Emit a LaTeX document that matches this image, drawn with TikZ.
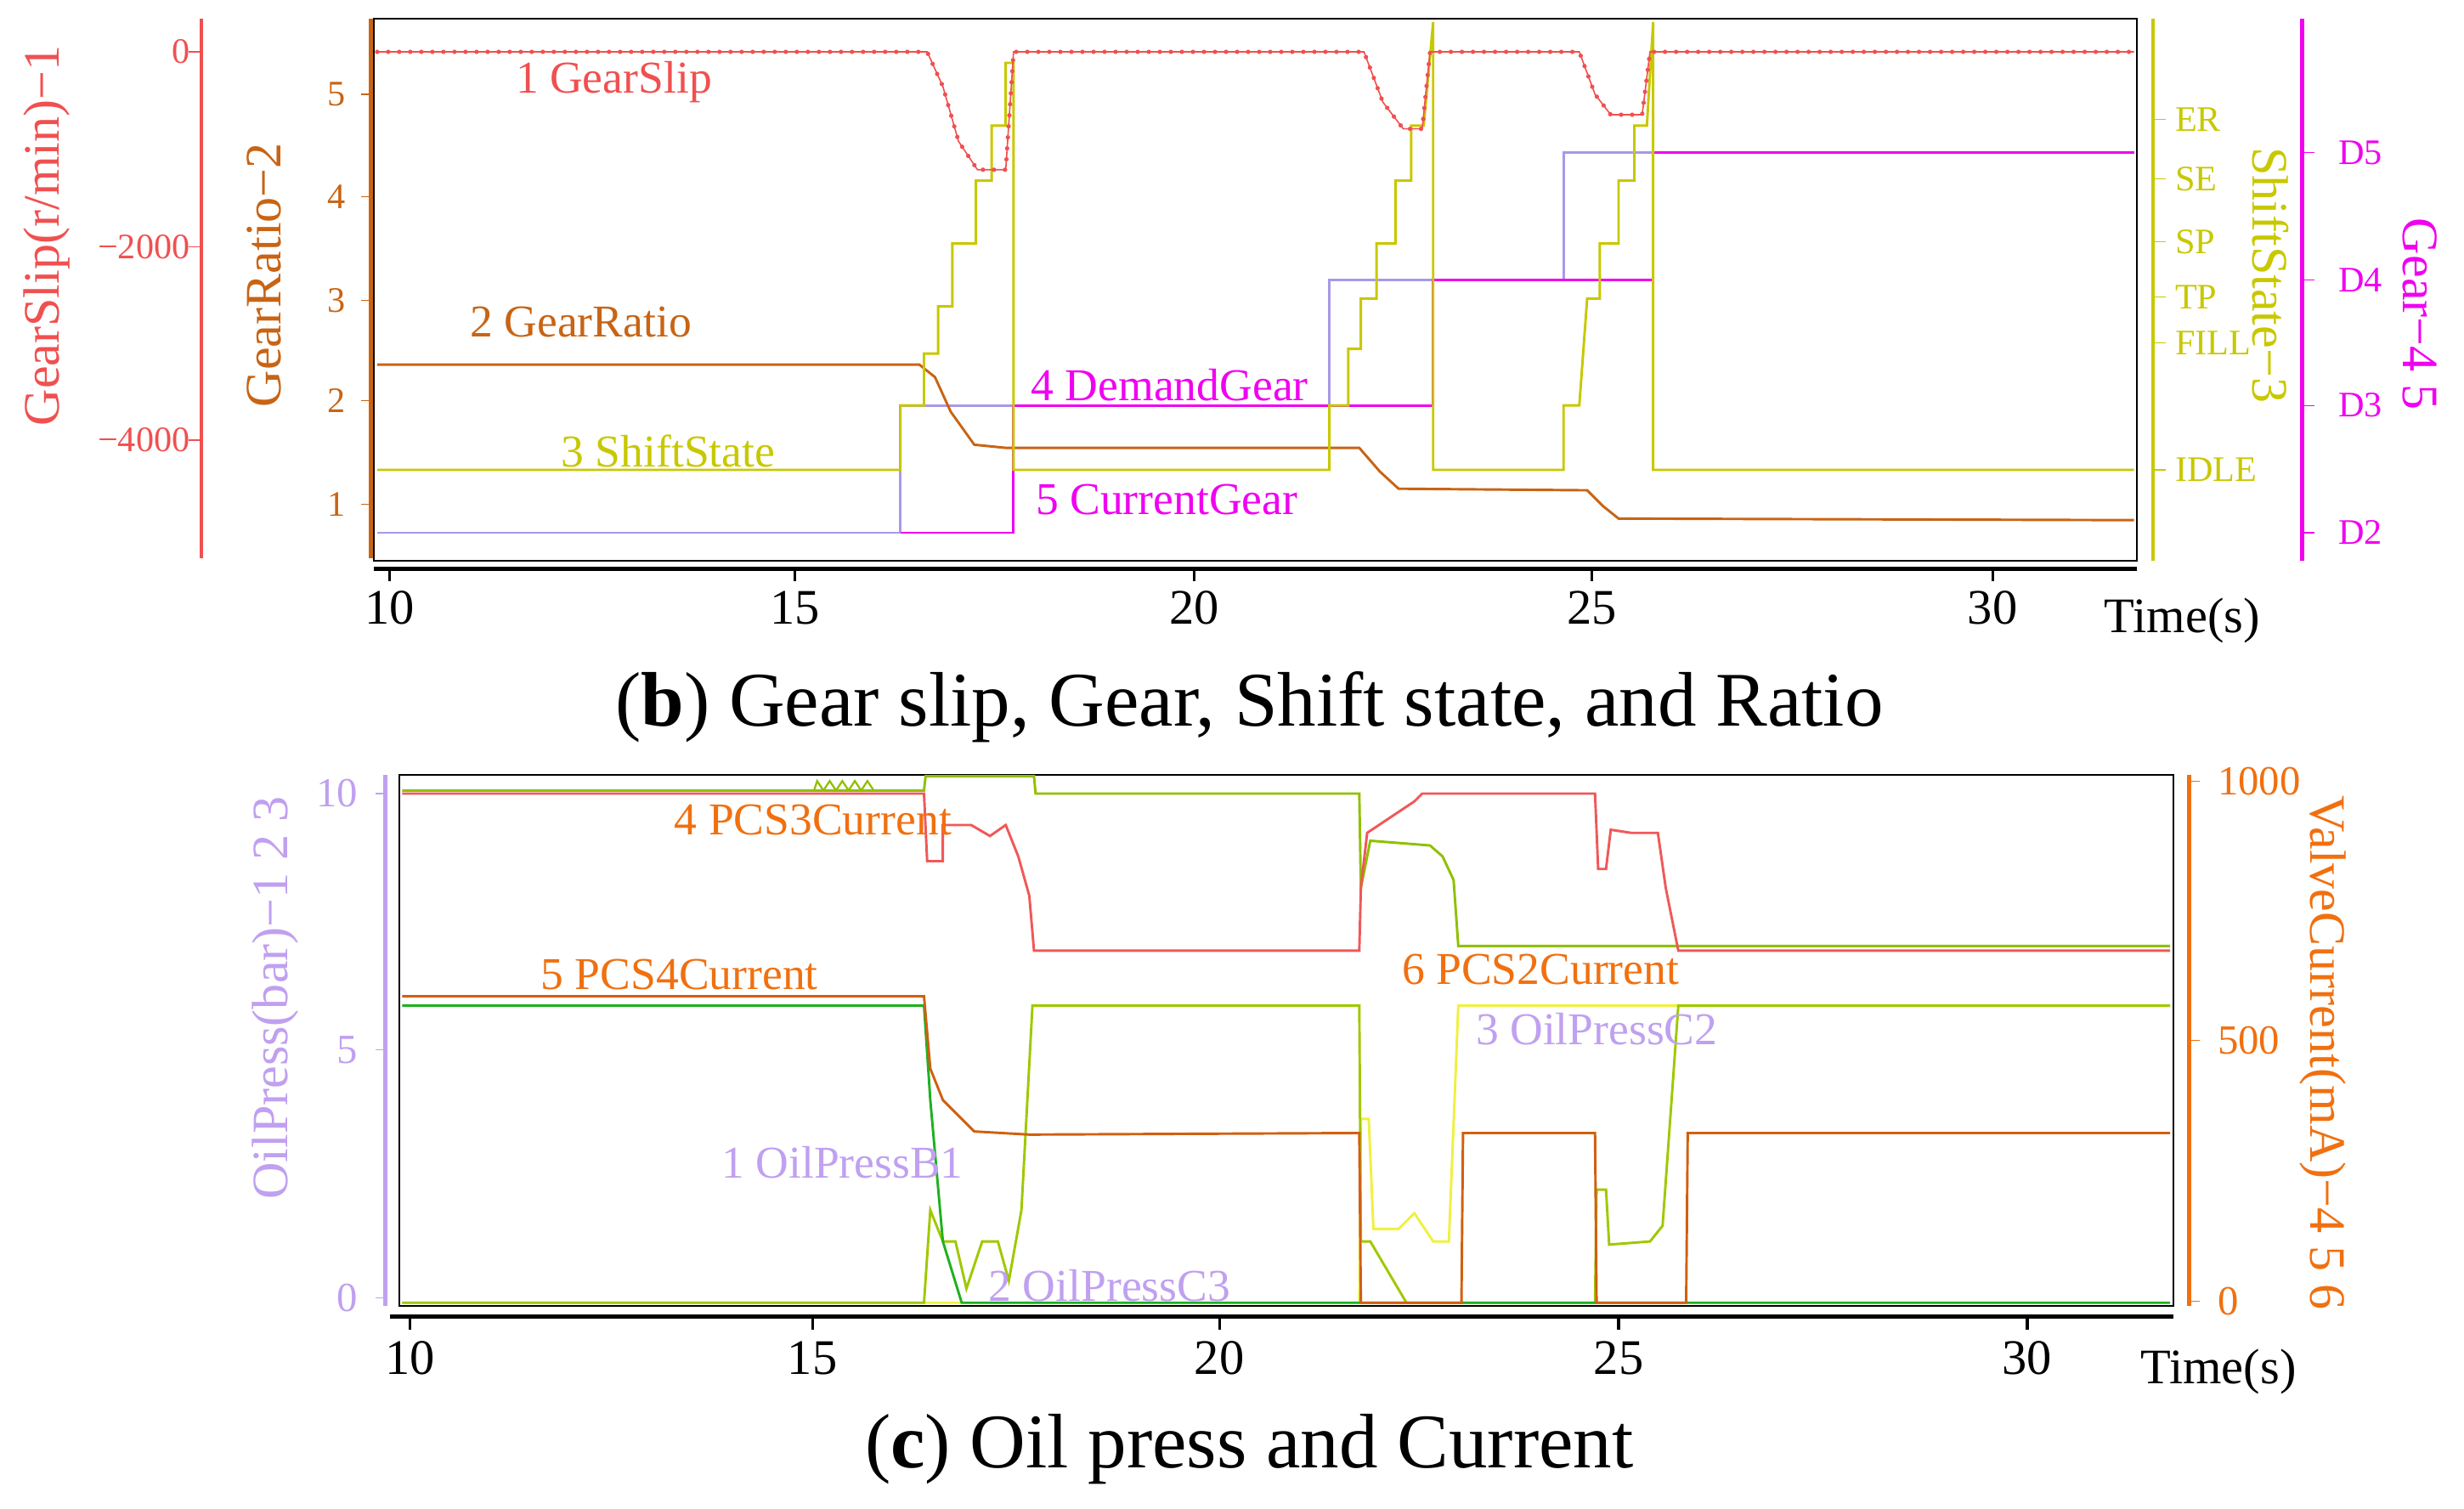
\documentclass[tikz,border=0pt]{standalone}
\usepackage{fontspec}
\setmainfont{Liberation Serif}
\definecolor{cslip}{HTML}{F05050}
\definecolor{cratio}{HTML}{C86414}
\definecolor{cshift}{HTML}{C8C800}
\definecolor{cgear}{HTML}{F000F0}
\definecolor{cdem}{HTML}{A898E8}
\definecolor{coil}{HTML}{C0A0F0}
\definecolor{cval}{HTML}{F07010}
\definecolor{cpcs3}{HTML}{F05858}
\definecolor{cpcs2}{HTML}{90C000}
\definecolor{cpcs4}{HTML}{D06010}
\definecolor{cb1}{HTML}{20B020}
\definecolor{cc3}{HTML}{A0C800}
\definecolor{cc2}{HTML}{F0F040}
\tikzset{tick/.style={font=\fontsize{13}{13}\selectfont},
 xtick/.style={font=\fontsize{18}{18}\selectfont},
 lab/.style={font=\fontsize{16.5}{16.5}\selectfont},
 axlab/.style={font=\fontsize{18.5}{18.5}\selectfont},
 captxt/.style={font=\fontsize{28}{28}\selectfont},
 crv/.style={line width=0.9pt}}
\begin{document}
\begin{tikzpicture}[x=0.02cm,y=-0.02cm]
\useasboundingbox (0,0) rectangle (1568,960);
% ===== top plot =====
\draw[black,line width=0.6pt] (238,12) rectangle (1360,357);
\draw[black,line width=1.6pt] (238,362) -- (1360,362);
\foreach \t/\x in {10/248,15/506,20/760,25/1013,30/1268}{
 \draw[line width=1pt] (\x,362)--(\x,370);
 \node[xtick] at (\x,387) {\t};}
\node[lab,anchor=west,font=\fontsize{18}{18}\selectfont] at (1333,395) {Time(s)};
% left axes
\draw[cslip,line width=1.2pt] (128,12)--(128,355);
\foreach \v/\y in {0/33,{\textminus2000}/157,{\textminus4000}/280}{
 \draw[cslip] (120,\y)--(128,\y); \node[tick,cslip,anchor=east] at (127,\y) {\v};}
\node[cslip,axlab,rotate=90] at (30,150) {GearSlip(r/min)\textminus1};
\draw[cratio,line width=1.6pt] (236,12)--(236,355);
\foreach \v/\y in {1/321,2/255,3/191,4/125,5/60}{
 \draw[cratio] (230,\y)--(236,\y); \node[tick,cratio,anchor=east] at (226,\y) {\v};}
\node[cratio,axlab,rotate=90] at (168,175) {GearRatio\textminus2};
% right axes
\draw[cshift,line width=1.2pt] (1370,12)--(1370,357);
\foreach \v/\y in {ER/76,SE/114,SP/154,TP/189,FILL/218,IDLE/299}{
 \draw[cshift] (1370,\y)--(1378,\y); \node[tick,cshift,anchor=west] at (1378,\y) {\v};}
\node[cshift,axlab,rotate=-90] at (1445,175) {ShiftState\textminus3};
\draw[cgear,line width=1.6pt] (1465,12)--(1465,357);
\foreach \v/\y in {D5/97,D4/178,D3/258,D2/339}{
 \draw[cgear] (1465,\y)--(1473,\y); \node[tick,cgear,anchor=west] at (1482,\y) {\v};}
\node[cgear,axlab,rotate=-90] at (1540,200) {Gear\textminus4 5};
% curves
\draw[cdem,crv] (240,339)--(573,339)--(573,258)--(846,258)--(846,178)--(995,178)--(995,97)--(1358,97);
\draw[cgear,crv] (573,339)--(645,339)--(645,258)--(912,258)--(912,178)--(1052,178)--(1052,97)--(1358,97);
\draw[cratio,crv] (240,232)--(585,232)--(595,240)--(605,262)--(620,283)--(640,285)--(865,285)--(878,300)--(890,311)--(1010,312)--(1020,322)--(1030,330)--(1358,331);
\draw[cshift,crv] (240,299)--(573,299)--(573,258)--(588,258)--(588,225)--(597,225)--(597,195)--(606,195)--(606,155)--(621,155)--(621,115)--(631,115)--(631,80)--(640,80)--(640,40)--(645,40)--(645,299)--(846,299)--(846,258)--(858,258)--(858,222)--(866,222)--(866,190)--(876,190)--(876,155)--(888,155)--(888,115)--(898,115)--(898,80)--(906,80)--(912,14)--(912,299)--(995,299)--(995,258)--(1005,258)--(1010,190)--(1018,190)--(1018,155)--(1030,155)--(1030,115)--(1040,115)--(1040,80)--(1048,80)--(1052,14)--(1052,299)--(1358,299);
\draw[cslip,line width=1.6pt,line cap=round,dash pattern=on 0pt off 4pt] (240,33)--(590,33)--(600,55)--(610,90)--(622,108)--(640,108)--(645,33)--(868,33)--(880,65)--(893,82)--(905,82)--(910,33)--(1005,33)--(1015,60)--(1025,73)--(1045,73)--(1050,33)--(1358,33);
\draw[cslip,line width=0.5pt] (240,33)--(590,33)--(600,55)--(610,90)--(622,108)--(640,108)--(645,33)--(868,33)--(880,65)--(893,82)--(905,82)--(910,33)--(1005,33)--(1015,60)--(1025,73)--(1045,73)--(1050,33)--(1358,33);
\node[lab,cslip,anchor=west] at (322,52) {1 GearSlip};
\node[lab,cratio,anchor=west] at (293,205) {2 GearRatio};
\node[lab,cshift,anchor=west] at (351,287) {3 ShiftState};
\node[lab,cgear,anchor=west] at (650,245) {4 DemandGear};
\node[lab,cgear,anchor=west] at (653,318) {5 CurrentGear};
\node[captxt] at (795,450) {(\textbf{b}) Gear slip, Gear, Shift state, and Ratio};
% ===== bottom plot =====
\draw[black,line width=0.6pt] (254,493) rectangle (1383,831);
\draw[black,line width=1.6pt] (248,838) -- (1383,838);
\foreach \t/\x in {10/261,15/517,20/776,25/1030,30/1290}{
 \draw[line width=1pt] (\x,838)--(\x,846);
 \node[xtick] at (\x,864) {\t};}
\node[lab,anchor=west,font=\fontsize{18}{18}\selectfont] at (1356,873) {Time(s)};
\draw[coil,line width=1.6pt] (245,493)--(245,831);
\foreach \v/\y in {0/826,5/668,10/505}{
 \draw[coil] (239,\y)--(245,\y); \node[tick,coil,anchor=east,font=\fontsize{15}{15}\selectfont] at (234,\y) {\v};}
\node[coil,axlab,rotate=90] at (175,635) {OilPress(bar)\textminus1 2 3};
\draw[cval,line width=1.6pt] (1393,493)--(1393,831);
\foreach \v/\y in {0/828,500/662,1000/497}{
 \draw[cval] (1393,\y)--(1400,\y); \node[tick,cval,anchor=west,font=\fontsize{15}{15}\selectfont] at (1405,\y) {\v};}
\node[cval,axlab,rotate=-90] at (1478,670) {ValveCurrent(mA)\textminus4 5 6};
% curves
\draw[cc2,crv] (256,829)--(865,829)--(866,712)--(871,712)--(874,782)--(890,782)--(900,772)--(912,790)--(922,790)--(928,640)--(1381,640);
\draw[cc3,crv] (256,829)--(588,829)--(592,770)--(600,790)--(608,790)--(615,820)--(625,790)--(635,790)--(642,815)--(650,770)--(657,640)--(865,640)--(866,790)--(872,790)--(895,829)--(1015,829)--(1016,757)--(1022,757)--(1024,792)--(1050,790)--(1058,780)--(1068,640)--(1381,640);
\draw[cb1,crv] (256,640)--(588,640)--(592,700)--(600,790)--(612,829)--(1381,829);
\draw[cpcs4,crv] (256,634)--(588,634)--(592,680)--(600,700)--(620,720)--(655,722)--(865,721)--(866,829)--(930,829)--(931,721)--(1015,721)--(1016,829)--(1073,829)--(1074,721)--(1381,721);
\draw[cpcs2,crv] (256,503)--(588,503)--(589,494)--(658,494)--(659,505)--(865,505)--(866,565)--(872,535)--(910,538)--(918,545)--(925,560)--(928,602)--(1381,602);
\draw[cpcs2,line width=0.7pt] (518,503)--(520,497)--(524,503)--(528,497)--(532,503)--(536,497)--(540,503)--(544,497)--(548,503)--(552,497)--(556,503);
\draw[cpcs3,crv] (256,505)--(588,505)--(590,548)--(600,548)--(600,525)--(618,525)--(630,532)--(640,525)--(648,545)--(655,570)--(658,605)--(865,605)--(866,565)--(870,530)--(885,520)--(900,510)--(905,505)--(1015,505)--(1017,553)--(1022,553)--(1025,528)--(1038,530)--(1055,530)--(1060,565)--(1068,605)--(1381,605);
\node[lab,cval,anchor=west] at (423,522) {4 PCS3Current};
\node[lab,cval,anchor=west] at (338,620) {5 PCS4Current};
\node[lab,cval,anchor=west] at (886,617) {6 PCS2Current};
\node[lab,coil,anchor=west] at (933,655) {3 OilPressC2};
\node[lab,coil,anchor=west] at (453,740) {1 OilPressB1};
\node[lab,coil,anchor=west] at (623,818) {2 OilPressC3};
\node[captxt] at (795,922) {(\textbf{c}) Oil press and Current};
\end{tikzpicture}
\end{document}
